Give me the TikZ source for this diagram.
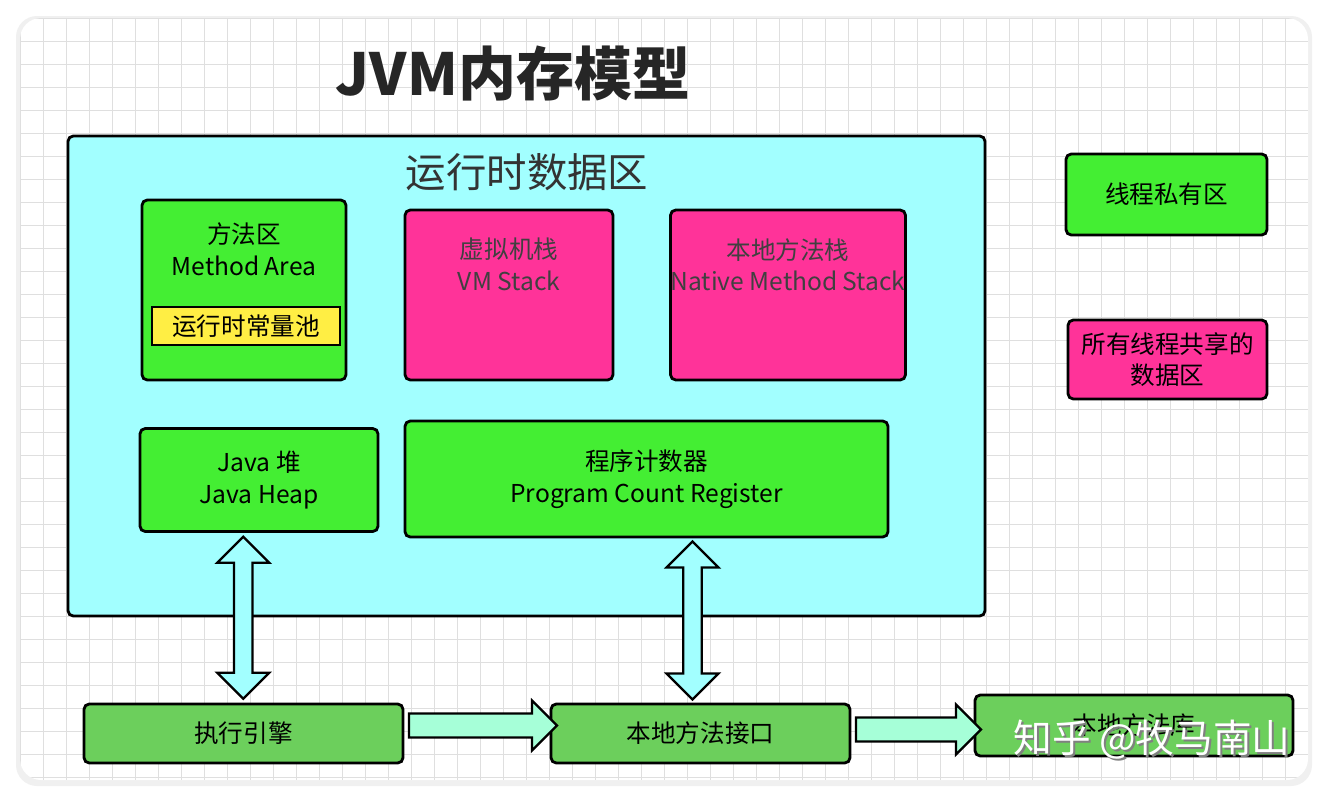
\documentclass[tikz,border=0pt]{standalone}
\usepackage{fontspec}
\setmainfont{Noto Sans CJK SC}
\usetikzlibrary{shapes.arrows,calc}
\definecolor{runcyan}{HTML}{A2FFFF}
\definecolor{boxgreen}{HTML}{44EE33}
\definecolor{boxpink}{HTML}{FF3399}
\definecolor{poolyellow}{HTML}{FFEE44}
\definecolor{dimgreen}{HTML}{6CCF5C}
\definecolor{flowgreen}{HTML}{A6FFD8}
\tikzset{
  area/.style={draw=black, line width=1.6pt, rounded corners=3pt, align=center, inner sep=0pt},
  tag/.style={font=\fontsize{14}{18}\selectfont},
  updown/.style={double arrow, draw=black, line width=1.3pt, fill=runcyan, rotate=90,
    minimum width={52*0.02cm}, double arrow head extend={13*0.02cm}, inner sep={6*0.02cm}},
  flow/.style={single arrow, draw=black, line width=1.3pt, fill=flowgreen,
    minimum width={50*0.02cm}, single arrow head extend={10*0.02cm}, inner sep={8*0.02cm}},
}
\begin{document}
\begin{tikzpicture}[x=0.02cm, y=-0.02cm]
  \useasboundingbox (0,0) rectangle (1328,798);
  % card with grid
  \fill[white] (0,0) rectangle (1328,798);
  \fill[gray!12, rounded corners=12pt] (16,16) rectangle (1312,786);
  \fill[white, rounded corners=12pt] (20,18) rectangle (1308,780);
  \begin{scope}
    \clip[rounded corners=12pt] (20,18) rectangle (1308,780);
    \foreach \x in {0,...,57}
      \draw[gray!25, line width=0.5pt] (20+23*\x,18) -- (20+23*\x,780);
    \foreach \y in {0,...,33}
      \draw[gray!25, line width=0.5pt] (20,18+23*\y) -- (1308,18+23*\y);
  \end{scope}
  % title
  \node[font=\fontsize{33}{38}\selectfont\bfseries, text=black!85] (title) at (513,73) {JVM内存模型};
  % runtime data area
  \node[area, fill=runcyan, minimum width={917*0.02cm}, minimum height={480*0.02cm}] (runtime) at (526.5,376) {};
  \node[font=\fontsize{23}{28}\selectfont, text=black!80] (runlabel) at (527,172) {运行时数据区};
  % inner blocks
  \node[area, fill=boxgreen, minimum width={204*0.02cm}, minimum height={180*0.02cm}] (method) at (244,290) {};
  \node[tag, align=center] (methodlabel) at (244,249) {方法区\\Method Area};
  \node[area, fill=poolyellow, line width=1.3pt, rounded corners=0pt, minimum width={188*0.02cm}, minimum height={38*0.02cm}, tag] (pool) at (246,326) {运行时常量池};
  \node[area, fill=boxpink, minimum width={208*0.02cm}, minimum height={170*0.02cm}, tag, text=black!75] (vmstack) at (509,295) {虚拟机栈\\VM Stack\\[1.2em]};
  \node[area, fill=boxpink, minimum width={214*0.02cm}, minimum height={170*0.02cm}, tag, text=black!75] (native) at (788,295) {本地方法栈\\Native Method Stack\\[1.2em]};
  \node[area, fill=boxgreen, minimum width={238*0.02cm}, minimum height={103*0.02cm}, tag] (heap) at (259,480) {Java 堆\\Java Heap};
  \node[area, fill=boxgreen, minimum width={483*0.02cm}, minimum height={116*0.02cm}, tag] (pc) at (646.5,479) {程序计数器\\Program Count Register};
  % legend
  \node[area, fill=boxgreen, minimum width={201*0.02cm}, minimum height={81*0.02cm}, tag] (private) at (1166.5,194.5) {线程私有区};
  \node[area, fill=boxpink, minimum width={199*0.02cm}, minimum height={79*0.02cm}, tag] (shared) at (1167.5,359.5) {所有线程共享的\\数据区};
  % bottom row
  \node[area, fill=dimgreen, minimum width={319*0.02cm}, minimum height={59*0.02cm}, tag] (engine) at (243.5,733.5) {执行引擎};
  \node[area, fill=dimgreen, minimum width={299*0.02cm}, minimum height={59*0.02cm}, tag] (jni) at (700.5,733.5) {本地方法接口};
  \node[area, fill=dimgreen, minimum width={318*0.02cm}, minimum height={61*0.02cm}, tag] (nativelib) at (1134,725.5) {本地方法库};
  % arrows
  \node[updown, minimum height={162*0.02cm}] (heaparrow) at ($(heap.south)!0.5!(engine.north) - (8,0)$) {};
  \node[updown, minimum height={158*0.02cm}] (pcarrow) at ($(pc.south -| jni.north)!0.5!(jni.north) - (8,0)$) {};
  \node[flow, minimum height={148*0.02cm}] (flowone) at ($(engine.east)!0.5!(jni.west) - (0,8)$) {};
  \node[flow, minimum height={125*0.02cm}] (flowtwo) at ($(jni.east)!0.5!(nativelib.west)$) {};
  % watermark
  \node[font=\fontsize{22}{26}\selectfont, text=black!50] (markshadow) at (1154,742) {知乎 @牧马南山};
  \node[font=\fontsize{22}{26}\selectfont, text=white] (mark) at (1152,740) {知乎 @牧马南山};
\end{tikzpicture}
\end{document}
